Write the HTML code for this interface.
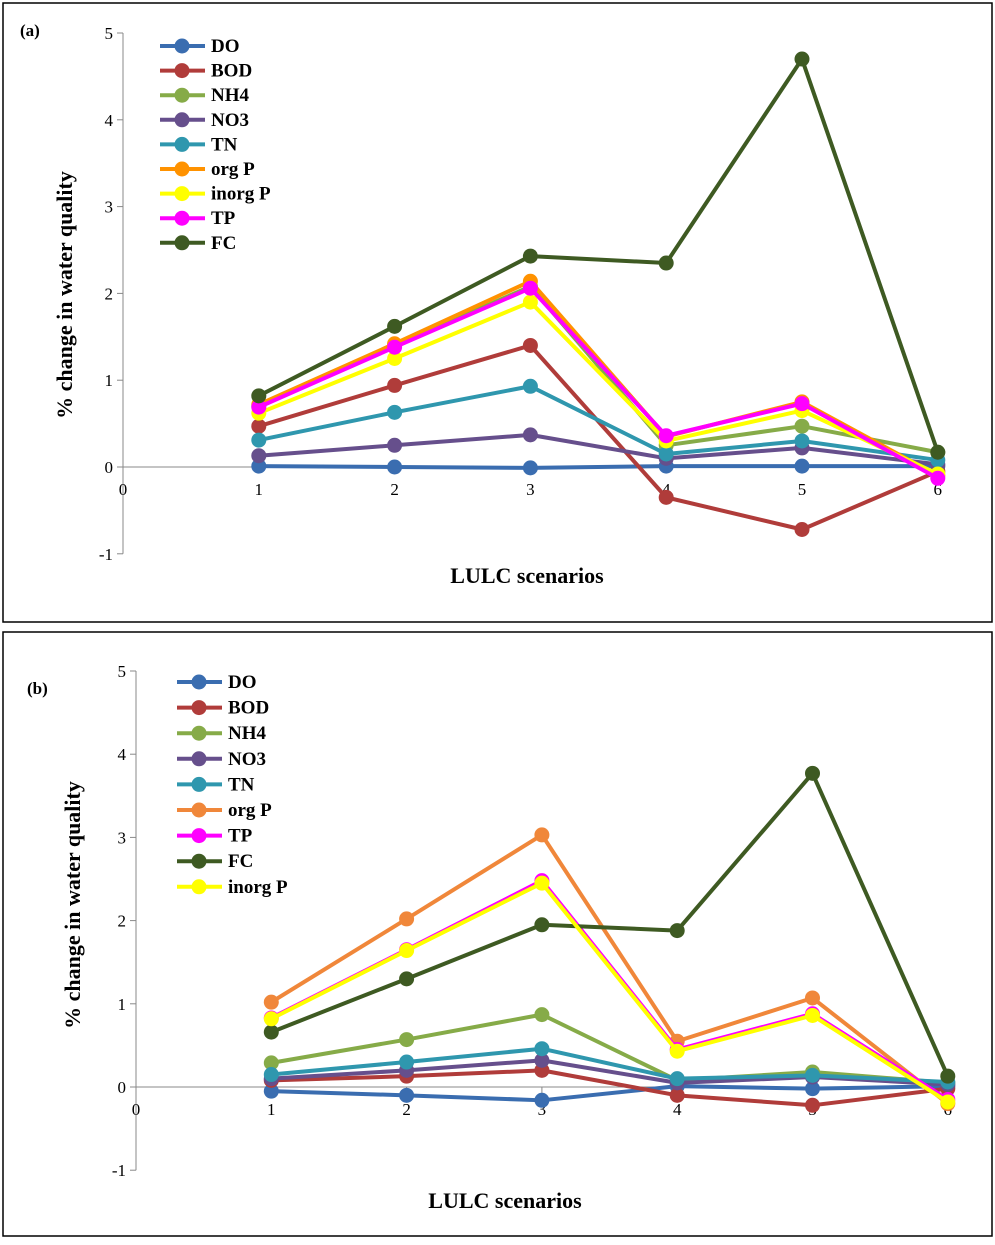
<!DOCTYPE html>
<html><head><meta charset="utf-8"><style>
body{margin:0;background:#fff;}
svg text{font-family:"Liberation Serif",serif;}
</style></head><body>
<svg id="s" width="995" height="1240" xmlns="http://www.w3.org/2000/svg">
<rect x="3" y="3" width="989" height="619" fill="#fff" stroke="#000" stroke-width="1.5"/>
<rect x="3" y="632" width="989" height="604" fill="#fff" stroke="#000" stroke-width="1.5"/>
<text x="20" y="36" font-size="17" font-weight="bold">(a)</text>
<text x="27" y="694" font-size="17" font-weight="bold">(b)</text>
</svg>
<script>
const xCats=[1,2,3,4,5,6];
const yTicks=[-1,0,1,2,3,4,5];
const seriesNamesA=["DO","BOD","NH4","NO3","TN","org P","inorg P","TP","FC"];
const colorsA=["#3a6db0","#b03c3a","#86ab48","#664f8c","#2f97ae","#ff9200","#ffff00","#ff00ff","#3e5a22"];
const aDO=[0.01,0,-0.01,0.01,0.01,0.01];
const aBOD=[0.47,0.94,1.4,-0.35,-0.72,-0.05];
const aNH4=[0.7,1.4,2.08,0.25,0.47,0.17];
const aNO3=[0.13,0.25,0.37,0.1,0.22,0.03];
const aTN=[0.31,0.63,0.93,0.15,0.3,0.08];
const aOrgP=[0.72,1.42,2.14,0.35,0.75,-0.1];
const aInorgP=[0.62,1.25,1.9,0.3,0.65,-0.08];
const aTP=[0.69,1.38,2.06,0.36,0.73,-0.13];
const aFC=[0.82,1.62,2.43,2.35,4.7,0.17];
const seriesNamesB=["DO","BOD","NH4","NO3","TN","org P","TP","FC","inorg P"];
const colorsB=["#3a6db0","#b03c3a","#86ab48","#664f8c","#2f97ae","#f0873a","#ff00ff","#3e5a22","#ffff00"];
const bDO=[-0.05,-0.1,-0.16,0.01,-0.02,0.01];
const bBOD=[0.08,0.13,0.2,-0.1,-0.22,-0.02];
const bNH4=[0.29,0.57,0.87,0.08,0.18,0.05];
const bNO3=[0.1,0.2,0.32,0.05,0.12,0.03];
const bTN=[0.15,0.3,0.46,0.1,0.14,0.06];
const bOrgP=[1.02,2.02,3.03,0.55,1.07,-0.2];
const bTP=[0.83,1.65,2.48,0.45,0.88,-0.15];
const bFC=[0.66,1.3,1.95,1.88,3.77,0.13];
const bInorgP=[0.82,1.64,2.45,0.43,0.86,-0.18];

const svg=document.getElementById('s');
const NS="http://www.w3.org/2000/svg";
function mk(t,a){const e=document.createElementNS(NS,t);for(const k in a)e.setAttribute(k,a[k]);svg.appendChild(e);return e;}

function chart(cfg,names,colors,data){
  const X=v=>cfg.x0+v*cfg.dx, Y=v=>cfg.y0-v*cfg.dy;
  let ax=mk('line',{x1:X(0),x2:X(0),y1:Y(5),y2:Y(-1),stroke:'#888','stroke-width':1});
  
  
  let bx=mk('line',{x1:X(0),x2:X(6),y1:Y(0),y2:Y(0),stroke:'#888','stroke-width':1});
  
  
  yTicks.forEach(t=>{
    mk('line',{x1:X(0)-6,x2:X(0),y1:Y(t),y2:Y(t),stroke:'#888'});
    const tx=mk('text',{x:X(0)-10,y:Y(t)+6,'font-size':17,'text-anchor':'end'});tx.textContent=t;
    
    
  });
  [0].concat(xCats).forEach(c=>{
    mk('line',{x1:X(c),x2:X(c),y1:Y(0),y2:Y(0)+6,stroke:'#888'});
    const tx=mk('text',{x:X(c),y:Y(0)+28,'font-size':17,'text-anchor':'middle'});tx.textContent=c;
    
    
  });
  const yt=mk('text',{x:0,y:0,'font-size':22,'font-weight':'bold','text-anchor':'middle',transform:`translate(${cfg.ytx},${cfg.yty}) rotate(-90)`});
  yt.textContent='% change in water quality';
  
  
  const xt=mk('text',{x:cfg.xtx,y:cfg.xty,'font-size':22,'font-weight':'bold','text-anchor':'middle'});
  xt.textContent='LULC scenarios';
  
  
  data.forEach((vals,i)=>{
    const pts=vals.map((v,j)=>X(xCats[j])+','+Y(v)).join(' ');
    const pl=mk('polyline',{points:pts,fill:'none',stroke:colors[i],'stroke-width':4,'stroke-linejoin':'round'});
    
    
    vals.forEach((v,j)=>{
      const c=mk('circle',{cx:X(xCats[j]),cy:Y(v),r:7.5,fill:colors[i]});
      
      
    });
    const ly=cfg.ly+i*cfg.ls;
    const ll=mk('line',{x1:cfg.lx,x2:cfg.lx+45,y1:ly,y2:ly,stroke:colors[i],'stroke-width':4});
    
    
    mk('circle',{cx:cfg.lx+22,cy:ly,r:7.5,fill:colors[i]});
    const lt=mk('text',{x:cfg.lx+51,y:ly+6,'font-size':19,'font-weight':'bold'});lt.textContent=names[i];
    
    
  });
}
chart({p:'a',x0:123,dx:135.8,y0:467,dy:86.8,ytx:72,yty:295,xtx:527,xty:583,lx:160,ly:46,ls:24.6},
  seriesNamesA,colorsA,[aDO,aBOD,aNH4,aNO3,aTN,aOrgP,aInorgP,aTP,aFC]);
chart({p:'b',x0:136,dx:135.3,y0:1087,dy:83.2,ytx:80,yty:905,xtx:505,xty:1208,lx:177,ly:682,ls:25.6},
  seriesNamesB,colorsB,[bDO,bBOD,bNH4,bNO3,bTN,bOrgP,bTP,bFC,bInorgP]);
</script>
</body></html>
